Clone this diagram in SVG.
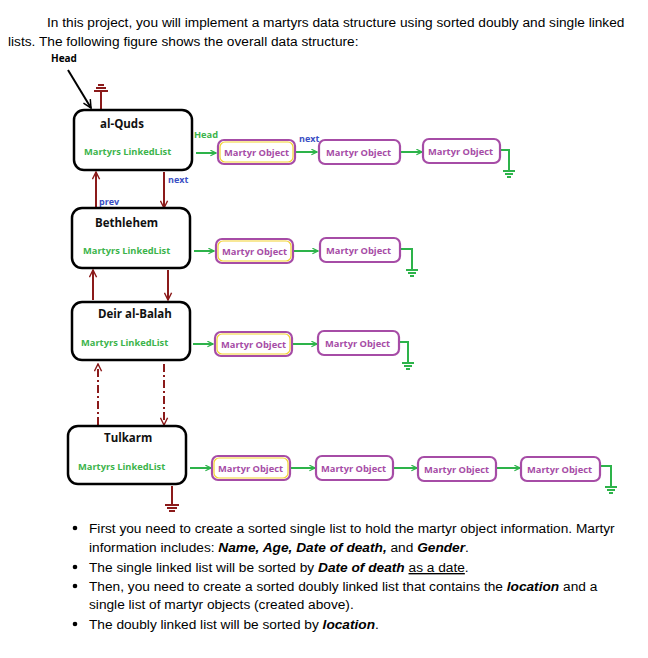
<svg xmlns="http://www.w3.org/2000/svg" width="648" height="658" viewBox="0 0 648 658">
<style>
.t{font-family:"Liberation Sans",Arial,sans-serif;font-size:13.7px;fill:#000}
.f{font-family:"Open Sans","Liberation Sans",sans-serif;font-weight:bold}
.nd{fill:#fff;stroke:#000;stroke-width:2.5}
.ti{font-size:11.5px;fill:#111}
.ml{font-size:9.3px;fill:#3cb44b}
.mo{fill:#fff;stroke:#a64ca6;stroke-width:2.2}
.in{fill:none;stroke:#f2d230;stroke-width:1.2}
.mt{font-size:9.3px;fill:#a64ca6}
.g{stroke:#2db34a;stroke-width:2;fill:none}
.r{stroke:#8b1a1a;stroke-width:2;fill:none}
.bl{font-size:9px;fill:#3b4fc4}
</style>
<defs>
<marker id="ga" viewBox="0 0 10 10" refX="9" refY="5" markerWidth="7" markerHeight="7" orient="auto" markerUnits="userSpaceOnUse"><path d="M1,1 L9,5 L1,9" fill="none" stroke="#2db34a" stroke-width="1.8"/></marker>
<marker id="ra" viewBox="0 0 10 10" refX="9" refY="5" markerWidth="9" markerHeight="9" orient="auto" markerUnits="userSpaceOnUse"><path d="M1,1 L9,5 L1,9" fill="none" stroke="#8b1a1a" stroke-width="1.6"/></marker>
<marker id="ka" viewBox="0 0 10 10" refX="9" refY="5" markerWidth="10" markerHeight="10" orient="auto" markerUnits="userSpaceOnUse"><path d="M1,1 L9,5 L1,9" fill="none" stroke="#000" stroke-width="1.5"/></marker>
</defs>
<text class="t" x="47" y="27">In this project, you will implement a martyrs data structure using sorted doubly and single linked</text>
<text class="t" x="8" y="46">lists. The following figure shows the overall data structure:</text>
<text class="f" x="51" y="62" font-size="10">Head</text>

<g id="connectors">
<path d="M68,70 L91,108" stroke="#000" stroke-width="2" marker-end="url(#ka)"/>
<path class="r" d="M101,110 V91 M94,91 H108 M96,88 H106 M98,85 H104"/>
<path class="r" d="M96,208 V172" marker-end="url(#ra)"/>
<path class="r" d="M164,172 V208" marker-end="url(#ra)"/>
<path class="r" d="M93,300 V270" marker-end="url(#ra)"/>
<path class="r" d="M168,270 V300" marker-end="url(#ra)"/>
<path class="r" d="M98,425 V364" stroke-dasharray="8,3,2,3" marker-end="url(#ra)"/>
<path class="r" d="M164,364 V425" stroke-dasharray="8,3,2,3" marker-end="url(#ra)"/>
<path class="r" d="M172,486 V505 M165,505 H179 M167,508 H177 M169,511 H175"/>
<path class="g" d="M196,153 H216" marker-end="url(#ga)"/>
<path class="g" d="M296,152 H317" marker-end="url(#ga)"/>
<path class="g" d="M401,152 H422" marker-end="url(#ga)"/>
<path class="g" d="M501,150 H509 V171 M503,171 H515 M505,174 H513 M507,177 H511"/>
<path class="g" d="M194,251 H214" marker-end="url(#ga)"/>
<path class="g" d="M294,251 H318" marker-end="url(#ga)"/>
<path class="g" d="M401,249 H412 V270 M406,270 H418 M408,273 H416 M410,276 H414"/>
<path class="g" d="M193,344 H213" marker-end="url(#ga)"/>
<path class="g" d="M293,344 H317" marker-end="url(#ga)"/>
<path class="g" d="M400,342 H408 V363 M402,363 H414 M404,366 H412 M406,369 H410"/>
<path class="g" d="M190,468 H211" marker-end="url(#ga)"/>
<path class="g" d="M291,468 H315" marker-end="url(#ga)"/>
<path class="g" d="M394,468 H417" marker-end="url(#ga)"/>
<path class="g" d="M497,468 H520" marker-end="url(#ga)"/>
<path class="g" d="M601,466 H611 V487 M605,487 H617 M607,490 H615 M609,493 H613"/>
</g>
<text class="f ml" x="194" y="138">Head</text>
<text class="f bl" x="299" y="142">next</text>
<text class="f bl" x="168" y="183">next</text>
<text class="f bl" x="99" y="205">prev</text>

<g id="n1"><rect class="nd" x="74" y="110" width="118" height="60" rx="10"/><text class="f ti" x="100" y="128">al-Quds</text><text class="f ml" x="84" y="155">Martyrs LinkedList</text></g>
<g id="n2"><rect class="nd" x="72" y="208" width="118" height="60" rx="10"/><text class="f ti" x="95" y="227">Bethlehem</text><text class="f ml" x="83" y="254">Martyrs LinkedList</text></g>
<g id="n3"><rect class="nd" x="72" y="302" width="118" height="58" rx="10"/><text class="f ti" x="98" y="318">Deir al-Balah</text><text class="f ml" x="81" y="346">Martyrs LinkedList</text></g>
<g id="n4"><rect class="nd" x="68" y="426" width="118" height="58" rx="10"/><text class="f ti" x="104" y="442">Tulkarm</text><text class="f ml" x="78" y="470">Martyrs LinkedList</text></g>

<g id="m11"><rect class="mo" x="218" y="140" width="77" height="24" rx="6"/><rect class="in" x="220" y="142" width="73" height="20" rx="5"/><text class="f mt" x="224" y="156">Martyr Object</text></g>
<g id="m12"><rect class="mo" x="319" y="140" width="81" height="24" rx="6"/><text class="f mt" x="326" y="156">Martyr Object</text></g>
<g id="m13"><rect class="mo" x="423" y="139" width="77" height="24" rx="6"/><text class="f mt" x="428" y="155">Martyr Object</text></g>
<g id="m21"><rect class="mo" x="216" y="239" width="77" height="24" rx="6"/><rect class="in" x="218" y="241" width="73" height="20" rx="5"/><text class="f mt" x="222" y="255">Martyr Object</text></g>
<g id="m22"><rect class="mo" x="320" y="238" width="80" height="24" rx="6"/><text class="f mt" x="326" y="254">Martyr Object</text></g>
<g id="m31"><rect class="mo" x="215" y="332" width="77" height="24" rx="6"/><rect class="in" x="217" y="334" width="73" height="20" rx="5"/><text class="f mt" x="221" y="348">Martyr Object</text></g>
<g id="m32"><rect class="mo" x="318" y="331" width="81" height="24" rx="6"/><text class="f mt" x="325" y="347">Martyr Object</text></g>
<g id="m41"><rect class="mo" x="212" y="456" width="78" height="24" rx="6"/><rect class="in" x="214" y="458" width="74" height="20" rx="5"/><text class="f mt" x="218" y="472">Martyr Object</text></g>
<g id="m42"><rect class="mo" x="316" y="456" width="77" height="24" rx="6"/><text class="f mt" x="321" y="472">Martyr Object</text></g>
<g id="m43"><rect class="mo" x="418" y="457" width="78" height="24" rx="6"/><text class="f mt" x="424" y="473">Martyr Object</text></g>
<g id="m44"><rect class="mo" x="521" y="457" width="79" height="24" rx="6"/><text class="f mt" x="527" y="473">Martyr Object</text></g>

<g>
<circle cx="75" cy="528" r="2.3"/><text class="t" x="89" y="533">First you need to create a sorted single list to hold the martyr object information. Martyr</text>
<text class="t" x="89" y="552">information includes: <tspan font-weight="bold" font-style="italic">Name, Age, Date of death,</tspan> and <tspan font-weight="bold" font-style="italic">Gender</tspan>.</text>
<circle cx="75" cy="567" r="2.3"/><text class="t" x="89" y="572">The single linked list will be sorted by <tspan font-weight="bold" font-style="italic">Date of death</tspan> <tspan text-decoration="underline">as a date</tspan>.</text>
<circle cx="75" cy="586" r="2.3"/><text class="t" x="89" y="591">Then, you need to create a sorted doubly linked list that contains the <tspan font-weight="bold" font-style="italic">location</tspan> and a</text>
<text class="t" x="89" y="609">single list of martyr objects (created above).</text>
<circle cx="75" cy="624" r="2.3"/><text class="t" x="89" y="629">The doubly linked list will be sorted by <tspan font-weight="bold" font-style="italic">location</tspan>.</text>
</g>
</svg>
